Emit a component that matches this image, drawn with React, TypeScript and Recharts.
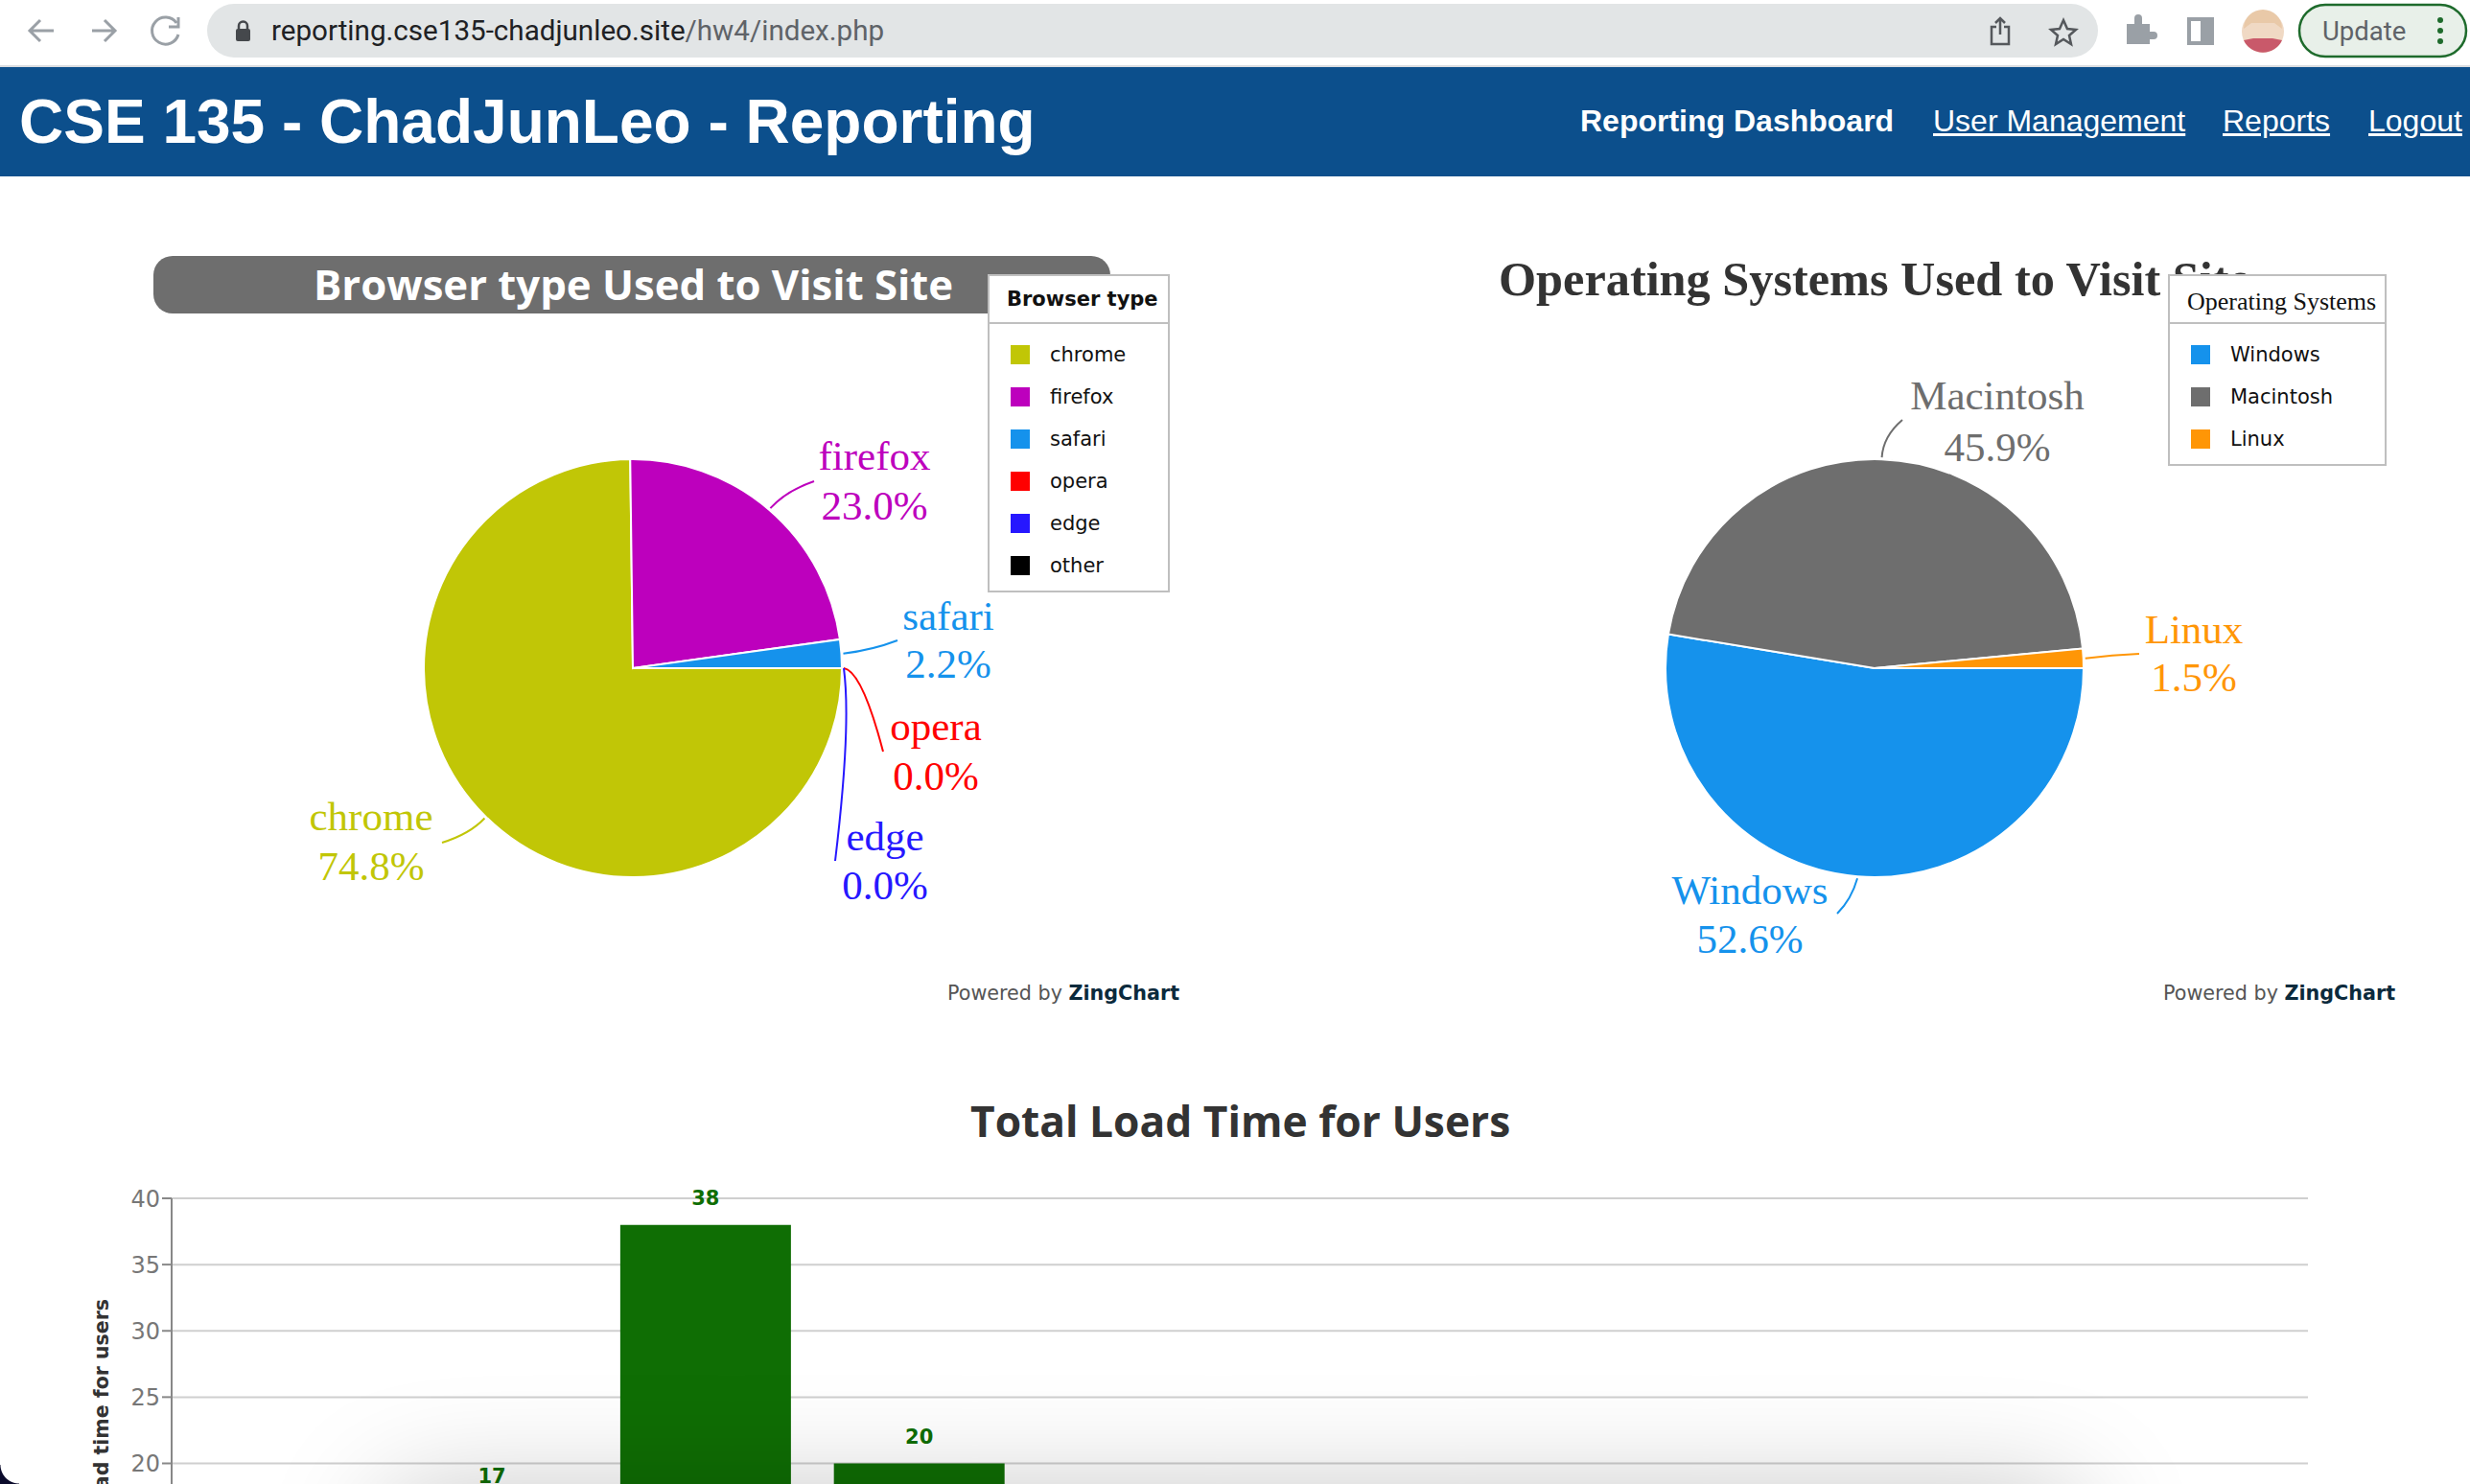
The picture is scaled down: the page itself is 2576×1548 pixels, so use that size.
import { Bar, BarChart, CartesianGrid, LabelList, Legend, Pie, PieChart, YAxis } from "recharts";

const browserNames = ["chrome", "firefox", "safari", "opera", "edge", "other"];
const browserShares = [74.8, 23.0, 2.2, 0, 0, 0];
const browserColors = ["#c1c606", "#bd00bd", "#1592ec", "#ff0000", "#2617ff", "#000000"];

const osNames = ["Windows", "Macintosh", "Linux"];
const osShares = [52.6, 45.9, 1.5];
const osColors = ["#1592ec", "#6e6e6e", "#ff9606"];

// only three bars reach into the screenshot, the rest are below the fold
const loadUsers = ["u1", "u2", "u3", "u4", "u5", "u6", "u7", "u8", "u9", "u10"];
const loadTimes = [null, 17, 38, 20, null, null, null, null, null, null];
const loadTicks = [0, 5, 10, 15, 20, 25, 30, 35, 40];

const browserData = browserNames.map((name, i) => ({ name, value: browserShares[i], fill: browserColors[i] }));
const osData = osNames.map((name, i) => ({ name, value: osShares[i], fill: osColors[i] }));
const loadData = loadUsers.map((user, i) => ({ user, time: loadTimes[i] }));

const SANS = "'DejaVu Sans', sans-serif";
const SERIF = "'Liberation Serif', serif";
const ARIAL = "'Liberation Sans', Arial, sans-serif";
const GREEN = "#0f6e04";

// label placement relative to the pie centre: x, name baseline, pct baseline, line end, line control
const labelSpots: Record<string, number[]> = {
  chrome: [-273, 169, 220, -199, 182, -170, 173],
  firefox: [252, -207, -156, 189, -195, 160, -185],
  safari: [329, -40, 9, 276, -29, 250, -19],
  opera: [316, 75, 126, 261, 87, 239, 3],
  edge: [263, 190, 240, 211, 201, 228, 60],
  Windows: [-130, 246, 296, -39, 256, -24, 241],
  Macintosh: [128, -270, -217, 29, -259, 9, -242],
  Linux: [333, -26, 23, 276, -15, 248, -14],
};

function SliceLabel(props: any) {
  const { cx, cy, midAngle, outerRadius, name, value, fill } = props;
  const spot = labelSpots[name];
  if (!spot) return null;
  const rad = (midAngle * Math.PI) / 180;
  const sx = cx + (outerRadius + 2) * Math.cos(rad);
  const sy = cy - (outerRadius + 2) * Math.sin(rad);
  const [lx, nameY, pctY, ex, ey, qx, qy] = spot;
  return (
    <g>
      <path d={`M${sx},${sy} Q${cx + qx},${cy + qy} ${cx + ex},${cy + ey}`} fill="none" stroke={fill} strokeWidth={2} />
      <text x={cx + lx} y={cy + nameY} fill={fill} textAnchor="middle" fontFamily={SERIF} fontSize={43}>{name}</text>
      <text x={cx + lx} y={cy + pctY + 1} fill={fill} textAnchor="middle" fontFamily={SERIF} fontSize={43}>{Number(value).toFixed(1)}%</text>
    </g>
  );
}

function LegendBox({ payload, title, titleFont }: any) {
  return (
    <div style={{ border: "2px solid #bfbfbf", background: "#fff", boxSizing: "border-box", height: "100%" }}>
      <div style={{ height: 50, borderBottom: "2px solid #bfbfbf", ...titleFont, whiteSpace: "nowrap", paddingTop: 12, boxSizing: "border-box" }}>{title}</div>
      <div style={{ paddingTop: 10 }}>
        {(payload || []).map((item: any) => (
          <div key={item.value} style={{ display: "flex", alignItems: "center", height: 44, marginLeft: 22 }}>
            <span style={{ width: 20, height: 20, background: item.color, display: "block" }} />
            <span style={{ marginLeft: 21, font: `21px ${SANS}`, color: "#111" }}>{item.value}</span>
          </div>
        ))}
      </div>
    </div>
  );
}

function PiePanel({ left, width, cx, data, title, titleFont, legendLeft, legendWidth, legendHeight }: any) {
  return (
    <div style={{ position: "absolute", left, top: 184 }}>
      <PieChart width={width} height={900} margin={{ top: 0, right: 0, bottom: 0, left: 0 }}>
        <Pie
          data={data}
          dataKey="value"
          nameKey="name"
          cx={cx}
          cy={513}
          outerRadius={218}
          startAngle={0}
          endAngle={-360}
          stroke="#fff"
          strokeWidth={2}
          label={SliceLabel}
          labelLine={false}
          isAnimationActive={false}
        />
        <Legend
          itemSorter={null}
          content={(p: any) => <LegendBox payload={p.payload} title={title} titleFont={titleFont} />}
          wrapperStyle={{ position: "absolute", left: legendLeft, top: 102, width: legendWidth, height: legendHeight, bottom: "auto" }}
        />
      </PieChart>
    </div>
  );
}

function BarValue(props: any) {
  const { x, y, width, value } = props;
  if (value == null) return null;
  return (
    <text x={x + width / 2} y={y - 21} fill={GREEN} textAnchor="middle" fontFamily={SANS} fontWeight="bold" fontSize={21}>
      {value}
    </text>
  );
}

function AxisTitle(props: any) {
  const top = props.viewBox.y + 105;
  return (
    <text transform={`translate(113,${top}) rotate(-90)`} textAnchor="end" fontFamily={SANS} fontWeight="bold" fontSize={20.5} fill="#333">
      Total load time for users
    </text>
  );
}

function BrowserBar() {
  const grey = "#9aa0a6";
  return (
    <div style={{ position: "absolute", left: 0, top: 0, width: 2576, height: 70, background: "#fff", borderBottom: "0" }}>
      <svg width={2576} height={68} style={{ position: "absolute", left: 0, top: 0 }}>
        <g fill="none" stroke={grey} strokeWidth={3}>
          <path d="M56,32 H31 M42,21 L31,32 L42,43" />
          <path d="M96,32 H120 M109,21 L120,32 L109,43" />
          <path d="M184,24 A14,14 0 1 0 186,36 M186,18 V28 H176" />
        </g>
        <rect x={216} y={4} width={1972} height={56} rx={28} fill="#e2e5e6" />
        <rect x={246} y={30} width={15} height={13} rx={2} fill="#45484c" />
        <path d="M249,30 V27 A4.5,4.5 0 0 1 258,27 V30" fill="none" stroke="#45484c" strokeWidth={2.5} />
        <g fill="none" stroke="#55585c" strokeWidth={2.5}>
          <path d="M2082,28 H2077 V46 H2095 V28 H2090 M2086,36 V19 M2081,24 L2086,19 L2091,24" />
          <path d="M2152,21 L2156,30 L2165,31 L2158,37 L2160,46 L2152,41 L2144,46 L2146,37 L2139,31 L2148,30 Z" />
        </g>
        <path d="M2218,25 H2226 V19 A4,4 0 0 1 2234,19 V25 H2242 V33 H2246 A4,4 0 0 1 2246,41 H2242 V46 H2218 Z" fill={grey} />
        <rect x={2283} y={20} width={24} height={25} fill="none" stroke={grey} strokeWidth={4} />
        <rect x={2295} y={20} width={12} height={25} fill={grey} />
        <circle cx={2360} cy={33} r={22} fill="#f0d9c4" />
        <path d="M2340,42 A22,22 0 0 0 2380,42 L2370,40 H2350 Z" fill="#c9596a" />
        <path d="M2340,30 A20,20 0 0 1 2380,30 L2372,24 H2348 Z" fill="#e9c9a8" />
        <rect x={2398} y={5} width={174} height={54} rx={27} fill="#e8f0e9" stroke="#1e6b2c" strokeWidth={2.5} />
        <circle cx={2545} cy={21} r={3} fill="#1e6b2c" />
        <circle cx={2545} cy={32} r={3} fill="#1e6b2c" />
        <circle cx={2545} cy={43} r={3} fill="#1e6b2c" />
      </svg>
      <div style={{ position: "absolute", left: 283, top: 15, font: "29.6px Roboto", color: "#202124", whiteSpace: "nowrap" }}>
        reporting.cse135-chadjunleo.site<span style={{ color: "#5f6368" }}>/hw4/index.php</span>
      </div>
      <div style={{ position: "absolute", left: 2422, top: 16, font: "27.5px Roboto", color: "#5f6368" }}>Update</div>
    </div>
  );
}

function Header() {
  const link = { position: "absolute", top: 108, font: `32px ${ARIAL}`, color: "#fff", whiteSpace: "nowrap" } as const;
  return (
    <>
      <div style={{ position: "absolute", left: 0, top: 68, width: 2576, height: 2, background: "#dadce0" }} />
      <div style={{ position: "absolute", left: 0, top: 70, width: 2576, height: 114, background: "#0c4f8c" }} />
      <div style={{ position: "absolute", left: 20, top: 90, font: `bold 64px ${ARIAL}`, color: "#fff", whiteSpace: "nowrap" }}>
        CSE 135 - ChadJunLeo - Reporting
      </div>
      <div style={{ ...link, left: 1648, fontWeight: "bold" }}>Reporting Dashboard</div>
      <div style={{ ...link, left: 2016, textDecoration: "underline" }}>User Management</div>
      <div style={{ ...link, left: 2318, textDecoration: "underline" }}>Reports</div>
      <div style={{ ...link, left: 2470, textDecoration: "underline" }}>Logout</div>
    </>
  );
}

function Powered({ left }: { left: number }) {
  return (
    <div style={{ position: "absolute", left, top: 1024, font: `20.7px ${SANS}`, color: "#555", whiteSpace: "nowrap" }}>
      Powered by <b style={{ color: "#0b2a3c" }}>ZingChart</b>
    </div>
  );
}

export default function App() {
  return (
    <div style={{ position: "absolute", left: 0, top: 0, width: 2576, height: 1548, overflow: "hidden", background: "#fff" }}>
      <BrowserBar />
      <Header />

      <div style={{ position: "absolute", left: 160, top: 267, width: 998, height: 60, borderRadius: 20, background: "#6e6e6e" }} />
      <div style={{ position: "absolute", left: 327, top: 266, font: `bold 43.7px 'Open Sans'`, color: "#fff", whiteSpace: "nowrap" }}>
        Browser type Used to Visit Site
      </div>
      <div style={{ position: "absolute", left: 1563, top: 262, font: `bold 50.3px ${SERIF}`, color: "#333", whiteSpace: "nowrap" }}>
        Operating Systems Used to Visit Site
      </div>

      <PiePanel
        left={0}
        width={1288}
        cx={660}
        data={browserData}
        title="Browser type"
        titleFont={{ font: `bold 21px ${SANS}`, color: "#111", paddingLeft: 18 }}
        legendLeft={1030}
        legendWidth={190}
        legendHeight={332}
      />
      <PiePanel
        left={1288}
        width={1288}
        cx={667}
        data={osData}
        title="Operating Systems"
        titleFont={{ font: `26px ${SERIF}`, color: "#111", paddingLeft: 18, paddingTop: 8 }}
        legendLeft={973}
        legendWidth={228}
        legendHeight={200}
      />

      <Powered left={988} />
      <Powered left={2256} />

      <div style={{ position: "absolute", left: 1012, top: 1139, font: `bold 44.3px 'Open Sans'`, color: "#333", whiteSpace: "nowrap" }}>
        Total Load Time for Users
      </div>

      <div style={{ position: "absolute", left: 0, top: 1200 }}>
        <BarChart width={2576} height={700} data={loadData} margin={{ top: 50, right: 169, bottom: 97, left: 61 }} barCategoryGap="10%">
          <CartesianGrid horizontal vertical={false} stroke="#cfcfcf" strokeWidth={2} />
          <YAxis
            width={118}
            domain={[0, 40]}
            ticks={loadTicks}
            stroke="#888"
            strokeWidth={2}
            tickSize={10}
            tick={{ fill: "#777", fontFamily: SANS, fontSize: 24 }}
            label={<AxisTitle />}
          />
          <Bar dataKey="time" fill={GREEN} isAnimationActive={false}>
            <LabelList dataKey="time" content={BarValue} />
          </Bar>
        </BarChart>
      </div>

      {/* window shadow along the bottom edge and the rounded corner of the screenshot */}
      <div style={{ position: "absolute", left: 400, top: 1560, width: 1770, height: 120, borderRadius: 40, boxShadow: "0 0 120px rgba(0,0,0,0.25)" }} />
      <div style={{ position: "absolute", left: 0, top: 1528, width: 20, height: 20, background: "radial-gradient(circle at 20px 0px, transparent 19px, #0b0b2b 20px)" }} />
    </div>
  );
}
